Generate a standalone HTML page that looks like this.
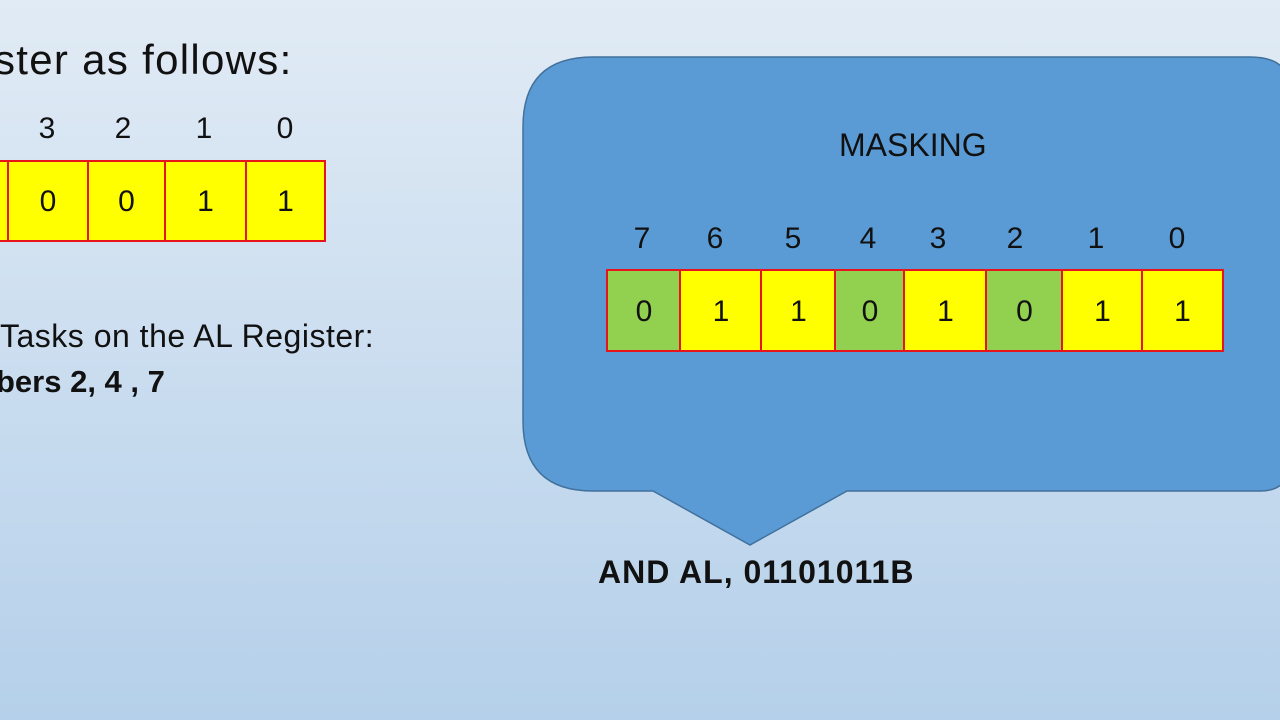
<!DOCTYPE html>
<html><head><style>
body{margin:0;width:1280px;height:720px;overflow:hidden;background:linear-gradient(#e1ebf5,#b5d0ea);font-family:"Liberation Sans",sans-serif;position:relative}
.t{position:absolute;color:#111;white-space:nowrap}
.c{position:absolute;background:#ffff00;border:2px solid #e8141c;box-sizing:border-box;text-align:center;font-size:30px;color:#111}
.g{background:#92d050}
.n{position:absolute;font-size:30px;color:#111;text-align:center;width:60px}
</style></head><body>
<div class="t" style="left:-6px;top:36px;font-size:42px;letter-spacing:1.3px">ster as follows:</div>
<div class="n" style="left:17px;top:112px">3</div>
<div class="n" style="left:93px;top:112px">2</div>
<div class="n" style="left:174px;top:112px">1</div>
<div class="n" style="left:255px;top:112px">0</div>
<div class="c" style="left:-20px;top:160px;width:29px;height:82px"></div>
<div style="position:absolute;left:0;top:240px;width:18px;height:2px;background:#e8141c"></div>
<div class="c" style="left:7px;top:160px;width:82px;height:82px;line-height:80px">0</div>
<div class="c" style="left:87px;top:160px;width:79px;height:82px;line-height:80px">0</div>
<div class="c" style="left:164px;top:160px;width:83px;height:82px;line-height:80px">1</div>
<div class="c" style="left:245px;top:160px;width:81px;height:82px;line-height:80px">1</div>
<div class="t" style="left:0;top:318px;font-size:32px;letter-spacing:0.5px">Tasks on the AL Register:</div>
<div class="t" style="left:-4px;top:364px;font-size:31px;font-weight:bold">bers 2, 4 , 7</div>
<svg style="position:absolute;left:0;top:0" width="1280" height="720">
<path d="M593 57 H1250 Q1290 57 1290 90 V460 Q1290 491 1260 491 H847 L750 545 L653 491 H593 Q523 491 523 421 V127 Q523 57 593 57Z" fill="#5b9bd5" stroke="#41719c" stroke-width="1.5"/>
</svg>
<div class="t" style="left:839px;top:127px;font-size:32px">MASKING</div>
<div class="n" style="left:612px;top:222px">7</div>
<div class="n" style="left:685px;top:222px">6</div>
<div class="n" style="left:763px;top:222px">5</div>
<div class="n" style="left:838px;top:222px">4</div>
<div class="n" style="left:908px;top:222px">3</div>
<div class="n" style="left:985px;top:222px">2</div>
<div class="n" style="left:1066px;top:222px">1</div>
<div class="n" style="left:1147px;top:222px">0</div>
<div class="c g" style="left:606px;top:269px;width:76px;height:83px;line-height:82px">0</div>
<div class="c" style="left:679px;top:269px;width:84px;height:83px;line-height:82px">1</div>
<div class="c" style="left:760px;top:269px;width:77px;height:83px;line-height:82px">1</div>
<div class="c g" style="left:834px;top:269px;width:72px;height:83px;line-height:82px">0</div>
<div class="c" style="left:903px;top:269px;width:85px;height:83px;line-height:82px">1</div>
<div class="c g" style="left:985px;top:269px;width:79px;height:83px;line-height:82px">0</div>
<div class="c" style="left:1061px;top:269px;width:83px;height:83px;line-height:82px">1</div>
<div class="c" style="left:1141px;top:269px;width:83px;height:83px;line-height:82px">1</div>
<div class="t" style="left:598px;top:554px;font-size:32px;font-weight:bold;letter-spacing:1px">AND AL, 01101011B</div>
</body></html>
